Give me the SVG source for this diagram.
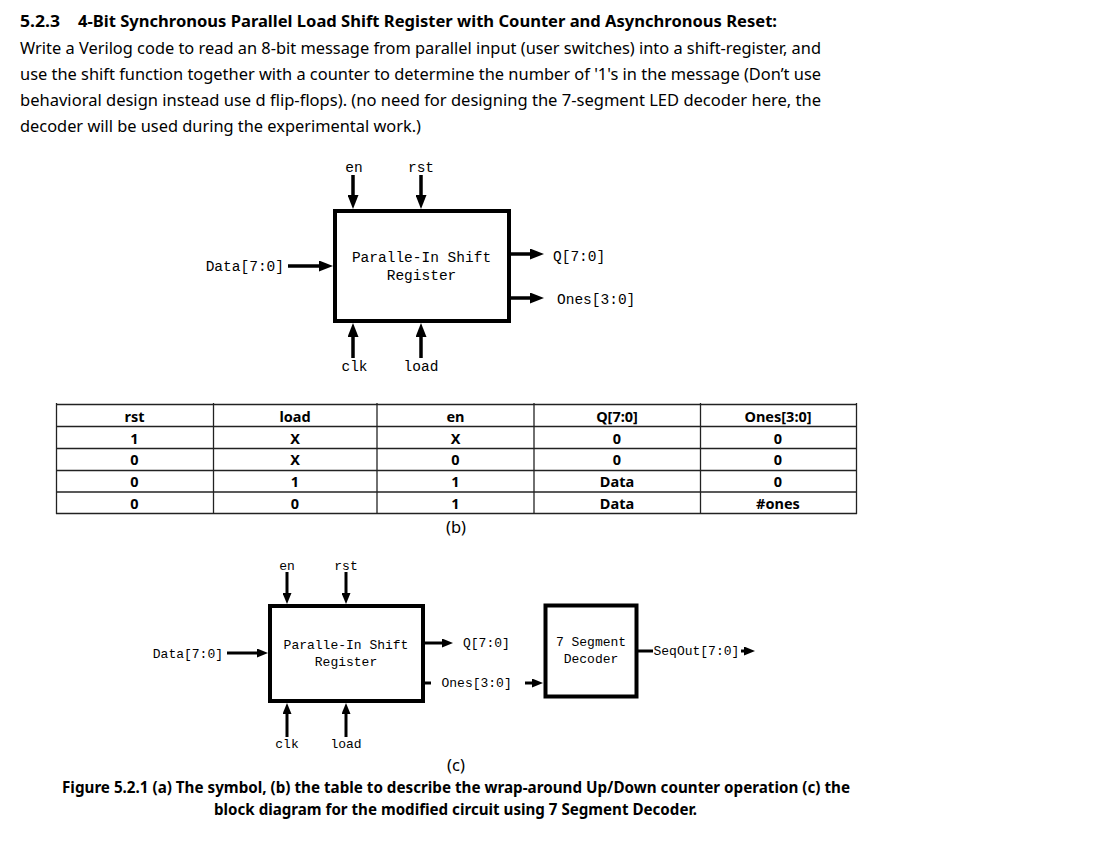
<svg xmlns="http://www.w3.org/2000/svg" width="1095" height="845" viewBox="0 0 1095 845">
<style>
.body{font-family:"Noto Sans","Open Sans",sans-serif;font-size:16.5px;fill:#000}
.bold{font-weight:bold}
.mono{font-family:"Liberation Mono","Courier New",monospace;font-size:14.5px;fill:#000}
.mono2{font-family:"Liberation Mono","Courier New",monospace;font-size:13px;fill:#000}
.tbl{font-family:"Noto Sans","Open Sans",sans-serif;font-size:14.5px;font-weight:bold;fill:#000;text-anchor:middle}
.box{fill:#fff;stroke:#000;stroke-width:4}
.w{stroke:#000;stroke-width:3.5;fill:none}
.w2{stroke:#000;stroke-width:3;fill:none}
.grid{stroke:#222;stroke-width:1.3}
.mid{text-anchor:middle}
.end{text-anchor:end}
</style>
<defs>
<marker id="ah" markerUnits="userSpaceOnUse" markerWidth="14" markerHeight="11" refX="8" refY="5.5" orient="auto"><path d="M0,0 L14,5.5 L0,11 z" fill="#000"/></marker>
<marker id="ahs" markerUnits="userSpaceOnUse" markerWidth="11" markerHeight="9" refX="6" refY="4.5" orient="auto"><path d="M0,0 L11,4.5 L0,9 z" fill="#000"/></marker>
</defs>
<rect width="1095" height="845" fill="#fff"/>

<g id="heading">
<text class="body bold" x="20" y="26.5" textLength="40" lengthAdjust="spacingAndGlyphs">5.2.3</text>
<text class="body bold" x="78" y="26.5" textLength="699" lengthAdjust="spacingAndGlyphs">4-Bit Synchronous Parallel Load Shift Register with Counter and Asynchronous Reset:</text>
<text class="body" x="20" y="53.5" textLength="801" lengthAdjust="spacingAndGlyphs">Write a Verilog code to read an 8-bit message from parallel input (user switches) into a shift-register, and</text>
<text class="body" x="20" y="80" textLength="801" lengthAdjust="spacingAndGlyphs">use the shift function together with a counter to determine the number of '1's in the message (Don’t use</text>
<text class="body" x="20" y="106" textLength="801" lengthAdjust="spacingAndGlyphs">behavioral design instead use d flip-flops). (no need for designing the 7-segment LED decoder here, the</text>
<text class="body" x="20" y="132" textLength="401" lengthAdjust="spacingAndGlyphs">decoder will be used during the experimental work.)</text>
</g>

<g id="symbol-a">
<rect class="box" x="335" y="211" width="174" height="110"/>
<text class="mono mid" x="421.5" y="261.5">Paralle-In Shift</text>
<text class="mono mid" x="421.5" y="280">Register</text>
</g>
<g id="connectors-a">
<line class="w" x1="353" y1="175" x2="353" y2="203" marker-end="url(#ah)"/>
<line class="w" x1="421" y1="175" x2="421" y2="203" marker-end="url(#ah)"/>
<line class="w" x1="353" y1="358" x2="353" y2="329" marker-end="url(#ah)"/>
<line class="w" x1="421" y1="358" x2="421" y2="329" marker-end="url(#ah)"/>
<line class="w" x1="288" y1="266" x2="327" y2="266" marker-end="url(#ah)"/>
<line class="w" x1="511" y1="254" x2="538" y2="254" marker-end="url(#ah)"/>
<line class="w" x1="511" y1="298" x2="538" y2="298" marker-end="url(#ah)"/>
</g>
<g id="labels-a">
<text class="mono mid" x="354" y="172">en</text>
<text class="mono mid" x="421" y="172">rst</text>
<text class="mono end" x="284" y="270.5">Data[7:0]</text>
<text class="mono" x="553" y="260.5">Q[7:0]</text>
<text class="mono" x="557" y="304">Ones[3:0]</text>
<text class="mono mid" x="354.5" y="371">clk</text>
<text class="mono mid" x="421" y="371">load</text>
</g>

<g id="table-b">
<g class="grid">
<line x1="56" y1="404.5" x2="857" y2="404.5"/>
<line x1="56" y1="426.5" x2="857" y2="426.5"/>
<line x1="56" y1="448.5" x2="857" y2="448.5"/>
<line x1="56" y1="470.5" x2="857" y2="470.5"/>
<line x1="56" y1="492" x2="857" y2="492"/>
<line x1="56" y1="513.5" x2="857" y2="513.5"/>
<line x1="56.5" y1="403" x2="56.5" y2="514"/>
<line x1="213.5" y1="403" x2="213.5" y2="514"/>
<line x1="377" y1="403" x2="377" y2="514"/>
<line x1="534" y1="403" x2="534" y2="514"/>
<line x1="700.5" y1="403" x2="700.5" y2="514"/>
<line x1="856.5" y1="403" x2="856.5" y2="514"/>
</g>
<text class="tbl" x="134.5" y="421.5">rst</text>
<text class="tbl" x="295" y="421.5">load</text>
<text class="tbl" x="455.5" y="421.5">en</text>
<text class="tbl" x="617" y="421.5">Q[7:0]</text>
<text class="tbl" x="778" y="421.5">Ones[3:0]</text>
<text class="tbl" x="134.5" y="443.5">1</text>
<text class="tbl" x="295" y="443.5">X</text>
<text class="tbl" x="455.5" y="443.5">X</text>
<text class="tbl" x="617" y="443.5">0</text>
<text class="tbl" x="778" y="443.5">0</text>
<text class="tbl" x="134.5" y="465">0</text>
<text class="tbl" x="295" y="465">X</text>
<text class="tbl" x="455.5" y="465">0</text>
<text class="tbl" x="617" y="465">0</text>
<text class="tbl" x="778" y="465">0</text>
<text class="tbl" x="134.5" y="487">0</text>
<text class="tbl" x="295" y="487">1</text>
<text class="tbl" x="455.5" y="487">1</text>
<text class="tbl" x="617" y="487">Data</text>
<text class="tbl" x="778" y="487">0</text>
<text class="tbl" x="134.5" y="508.5">0</text>
<text class="tbl" x="295" y="508.5">0</text>
<text class="tbl" x="455.5" y="508.5">1</text>
<text class="tbl" x="617" y="508.5">Data</text>
<text class="tbl" x="778" y="508.5">#ones</text>
<text class="body mid" x="456" y="533">(b)</text>
</g>

<g id="shift-register-c">
<rect class="box" x="270" y="606" width="153" height="95"/>
<text class="mono2 mid" x="346" y="649">Paralle-In Shift</text>
<text class="mono2 mid" x="346" y="666">Register</text>
</g>
<g id="decoder-c">
<rect class="box" x="545.5" y="605.5" width="91" height="91"/>
<text class="mono2 mid" x="591" y="645.5">7 Segment</text>
<text class="mono2 mid" x="591" y="662.5">Decoder</text>
</g>
<g id="connectors-c">
<line class="w2" x1="287" y1="572" x2="287" y2="599" marker-end="url(#ahs)"/>
<line class="w2" x1="346" y1="572" x2="346" y2="599" marker-end="url(#ahs)"/>
<line class="w2" x1="287" y1="737" x2="287" y2="708" marker-end="url(#ahs)"/>
<line class="w2" x1="346" y1="737" x2="346" y2="708" marker-end="url(#ahs)"/>
<line class="w2" x1="227" y1="653" x2="263" y2="653" marker-end="url(#ahs)"/>
<line class="w2" x1="425" y1="643" x2="448" y2="643" marker-end="url(#ahs)"/>
<line class="w2" x1="425" y1="683" x2="431" y2="683"/>
<line class="w2" x1="525" y1="683" x2="538" y2="683" marker-end="url(#ahs)"/>
<line class="w2" x1="638" y1="651" x2="653" y2="651"/>
<line class="w2" x1="741" y1="651" x2="750" y2="651" marker-end="url(#ahs)"/>
</g>
<g id="labels-c">
<text class="mono2 mid" x="287" y="570">en</text>
<text class="mono2 mid" x="346" y="570">rst</text>
<text class="mono2 end" x="223" y="657.5">Data[7:0]</text>
<text class="mono2" x="463" y="647">Q[7:0]</text>
<text class="mono2" x="441.5" y="687">Ones[3:0]</text>
<text class="mono2" x="653.5" y="655">SeqOut[7:0]</text>
<text class="mono2 mid" x="287" y="747.5">clk</text>
<text class="mono2 mid" x="346" y="747.5">load</text>
</g>

<g id="caption">
<text class="body mid" x="456" y="771" font-size="15">(c)</text>
<text class="body bold" x="62" y="793" font-size="15" textLength="788" lengthAdjust="spacingAndGlyphs">Figure 5.2.1 (a) The symbol, (b) the table to describe the wrap-around Up/Down counter operation (c) the</text>
<text class="body bold" x="214" y="814.5" font-size="15" textLength="483" lengthAdjust="spacingAndGlyphs">block diagram for the modified circuit using 7 Segment Decoder.</text>
</g>
</svg>
